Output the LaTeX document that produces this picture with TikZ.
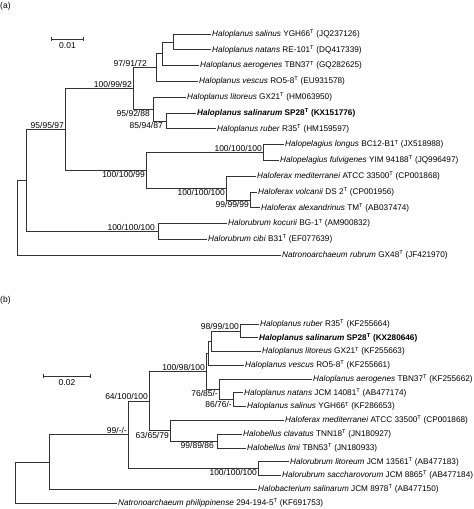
\documentclass[tikz,border=0pt]{standalone}
\usepackage{fontspec}
\setmainfont{Liberation Sans}
\usetikzlibrary{arrows.meta}
\newcommand{\taxon}[3]{\textit{#1} #2\textsuperscript{T} (#3)}
\newcommand{\taxonbf}[3]{\textbf{\textit{#1} #2\textsuperscript{T} (#3)}}

\begin{document}
\begin{tikzpicture}[x=1pt, y=-1pt,
  branch/.style={draw=black!80, line width=0.75pt},
  leaf/.style={anchor=west, inner sep=1pt, font=\fontsize{8.2}{9}\selectfont, text height=6.2pt, text depth=1.6pt},
  boot/.style={inner sep=1pt, font=\fontsize{8.5}{10}\selectfont},
  panel/.style={anchor=west, inner sep=0pt, font=\fontsize{8.5}{10}\selectfont},
  scalebar/.style={draw=black!80, line width=0.75pt, {Bar[width=4pt]}-{Bar[width=4pt]}},
]
  \useasboundingbox (0,0) rectangle (474,509);

  % (a)
  \node[panel] (pa) at (0,6) {(a)};
  \coordinate (sa0) at (51,39);
  \coordinate (sa1) at (84,39);
  \draw[scalebar] (sa0) -- (sa1);
  \node[boot, anchor=north] (sca) at (67.5,41) {0.01};

  \foreach \i/\x/\txt in {
    0/211/\taxon{Haloplanus salinus}{YGH66}{JQ237126},
    1/211/\taxon{Haloplanus natans}{RE-101}{DQ417339},
    2/199/\taxon{Haloplanus aerogenes}{TBN37}{GQ282625},
    3/198/\taxon{Haloplanus vescus}{RO5-8}{EU931578},
    4/186/\taxon{Haloplanus litoreus}{GX21}{HM063950},
    5/196/\taxonbf{Haloplanus salinarum}{SP28}{KX151776},
    6/216/\taxon{Haloplanus ruber}{R35}{HM159597},
    7/284/\taxon{Halopelagius longus}{BC12-B1}{JX518988},
    8/279/\taxon{Halopelagius fulvigenes}{YIM 94188}{JQ996497},
    9/256/\taxon{Haloferax mediterranei}{ATCC 33500}{CP001868},
    10/257/\taxon{Haloferax volcanii}{DS 2}{CP001956},
    11/260/\taxon{Haloferax alexandrinus}{TM}{AB037474},
    12/227/\taxon{Halorubrum kocurii}{BG-1}{AM900832},
    13/207/\taxon{Halorubrum cibi}{B31}{EF077639},
    14/281/\taxon{Natronoarchaeum rubrum}{GX48}{JF421970}
  } {
    \node[leaf] (a\i) at (\x, 34+15.8*\i) {\txt};
  }

  \coordinate (aL) at (173,41.9);
  \coordinate (aK) at (162,53.75);
  \coordinate (aJ) at (156,67.6);
  \coordinate (aI) at (166,120.9);
  \coordinate (aH) at (153,109.05);
  \coordinate (aC) at (133,88.3);
  \coordinate (aE) at (263,152.5);
  \coordinate (aG) at (250,199.9);
  \coordinate (aF) at (226,188.05);
  \coordinate (aD) at (146,170.3);
  \coordinate (aB) at (65,129.3);
  \coordinate (aM) at (158,231.5);
  \coordinate (aA) at (26,180.4);
  \coordinate (aR) at (17,217.8);

  \foreach \p/\c in {aR/aA, aR/a14.west, aA/aB, aA/aM, aB/aC, aB/aD,
    aC/aJ, aC/aH, aJ/aK, aJ/a3.west, aK/aL, aK/a2.west, aL/a0.west, aL/a1.west,
    aH/a4.west, aH/aI, aI/a5.west, aI/a6.west, aD/aE, aD/aF, aE/a7.west, aE/a8.west,
    aF/a9.west, aF/aG, aG/a10.west, aG/a11.west, aM/a12.west, aM/a13.west}
    \draw[branch] (\p) |- (\c);

  \node[boot, above left] (baB) at (aB) {95/95/97};
  \node[boot, above left] (baC) at (aC) {100/99/92};
  \node[boot, above left, xshift=-8pt] (baJ) at (aJ) {97/91/72};
  \node[boot, below left, xshift=-2pt] (baH) at (aH) {95/92/88};
  \node[boot, below left, xshift=-2pt] (baI) at (aI) {85/94/87};
  \node[boot, below left] (baD) at (aD) {100/100/99};
  \node[boot, above left] (baE) at (aE) {100/100/100};
  \node[boot, below left] (baF) at (aF) {100/100/100};
  \node[boot, below left] (baG) at (aG) {99/99/99};
  \node[boot, above left, xshift=-2pt] (baM) at (aM) {100/100/100};

  % (b)
  \node[panel] (pb) at (0,300) {(b)};
  \coordinate (sb0) at (43,376);
  \coordinate (sb1) at (91,376);
  \draw[scalebar] (sb0) -- (sb1);
  \node[boot, anchor=north] (scb) at (67,378) {0.02};

  \foreach \i/\x/\txt in {
    0/259/\taxon{Haloplanus ruber}{R35}{KF255664},
    1/258/\taxonbf{Haloplanus salinarum}{SP28}{KX280646},
    2/261/\taxon{Haloplanus litoreus}{GX21}{KF255663},
    3/244/\taxon{Haloplanus vescus}{RO5-8}{KF255661},
    4/312/\taxon{Haloplanus aerogenes}{TBN37}{KF255662},
    5/243/\taxon{Haloplanus natans}{JCM 14081}{AB477174},
    6/246/\taxon{Haloplanus salinus}{YGH66}{KF286653},
    7/284/\taxon{Haloferax mediterranei}{ATCC 33500}{CP001868},
    8/242/\taxon{Halobellus clavatus}{TNN18}{JN180927},
    9/246/\taxon{Halobellus limi}{TBN53}{JN180933},
    10/289/\taxon{Halorubrum litoreum}{JCM 13561}{AB477183},
    11/281/\taxon{Halorubrum saccharovorum}{JCM 8865}{AB477184},
    12/257/\taxon{Halobacterium salinarum}{JCM 8978}{AB477150},
    13/117/\taxon{Natronoarchaeum philippinense}{294-194-5}{KF691753}
  } {
    \node[leaf] (b\i) at (\x, 324+13.77*\i) {\txt};
  }

  \coordinate (bN) at (240,330.9);
  \coordinate (bY1) at (211,341.2);
  \coordinate (bY2) at (208.5,353.3);
  \coordinate (bZ) at (233,399.7);
  \coordinate (bX) at (219,389.4);
  \coordinate (bW) at (206,371.3);
  \coordinate (bU) at (217,441.0);
  \coordinate (bT) at (170,430.7);
  \coordinate (bS) at (149,401.0);
  \coordinate (bR) at (258,468.6);
  \coordinate (bQ) at (128,434.8);
  \coordinate (bP) at (49,462.0);
  \coordinate (bRoot) at (15,482.5);

  \foreach \p/\c in {bRoot/bP, bRoot/b13.west, bP/bQ, bP/b12.west, bQ/bS, bQ/bR,
    bS/bW, bS/bT, bW/bY2, bW/bX, bY2/bY1, bY2/b3.west, bY1/bN, bY1/b2.west,
    bN/b0.west, bN/b1.west, bX/b4.west, bX/bZ, bZ/b5.west, bZ/b6.west,
    bT/b7.west, bT/bU, bU/b8.west, bU/b9.west, bR/b10.west, bR/b11.west}
    \draw[branch] (\p) |- (\c);

  \node[boot, above left] (bbN) at (bN) {98/99/100};
  \node[boot, above left] (bbW) at (bW) {100/98/100};
  \node[boot, below left] (bbX) at (bX) {76/85/-};
  \node[boot, below left] (bbZ) at (bZ) {86/76/-};
  \node[boot, above left] (bbS) at (bS) {64/100/100};
  \node[boot, below left] (bbT) at (bT) {63/65/79};
  \node[boot, below left, xshift=-2pt] (bbU) at (bU) {99/89/86};
  \node[boot, above left] (bbQ) at (bQ) {99/-/-};
  \node[boot, below left] (bbR) at (bR) {100/100/100};
\end{tikzpicture}
\end{document}
